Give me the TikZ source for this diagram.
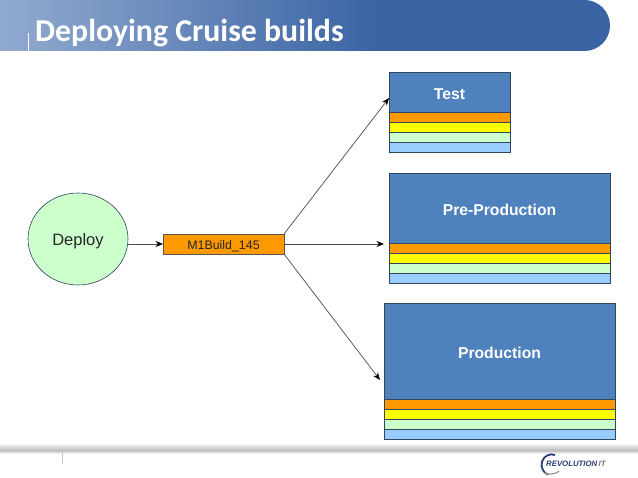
\documentclass[tikz,border=0pt]{standalone}
\usepackage{fontspec}
\setmainfont{Liberation Sans}
\newfontfamily\titlefont{Carlito}
\usetikzlibrary{arrows.meta,shapes.geometric}
\definecolor{hdrL}{HTML}{92AACF}
\definecolor{hdrR}{HTML}{3A64A4}
\definecolor{boxblue}{HTML}{4F81BD}
\definecolor{bandO}{HTML}{FF9900}
\definecolor{bandY}{HTML}{FFFF00}
\definecolor{bandG}{HTML}{CCFFCC}
\definecolor{bandB}{HTML}{99CCFF}
\definecolor{edge}{HTML}{2F4560}
\definecolor{logoblue}{HTML}{2B3F73}
\pgfdeclarehorizontalshading{hdrshade}{100bp}{color(0bp)=(hdrL); color(25bp)=(hdrL); color(56bp)=(hdrR); color(75bp)=(hdrR); color(100bp)=(hdrR)}
\tikzset{
  x=1pt,y=-1pt,
  band/.style={draw=edge,line width=0.6pt,minimum height=10pt,inner sep=0pt,outer sep=0pt,anchor=north west},
  env/.style={draw=edge,line width=0.6pt,fill=boxblue,inner sep=0pt,outer sep=0pt,anchor=north west,text=white,text height=13.5pt,text depth=0pt,font=\bfseries\fontsize{15.7}{17}\selectfont},
  link/.style={draw=black!70,line width=0.7pt,-{Stealth[length=7.5pt,width=6pt,color=black]}},
}
\newcommand{\bands}[4]{% name, x, y, width
  \node[band,fill=bandO,minimum width=#4pt] (#1o) at (#2,#3) {};
  \node[band,fill=bandY,minimum width=#4pt] (#1y) at (#2,#3+10) {};
  \node[band,fill=bandG,minimum width=#4pt] (#1g) at (#2,#3+20) {};
  \node[band,fill=bandB,minimum width=#4pt] (#1b) at (#2,#3+30) {};
}
\begin{document}
\begin{tikzpicture}
\useasboundingbox (0,0) rectangle (638,478);
\fill[white] (0,0) rectangle (638,478);
% header
\shade[shading=hdrshade,shading angle=0]
  (0,0) -- (584.5,0) arc[start angle=90,end angle=-90,radius=25.5pt] -- (0,51) -- cycle;
\draw[white,line width=0.8pt] (28,33) -- (28,52);
\node[anchor=base west,inner sep=0pt,text=white,font=\titlefont\bfseries\fontsize{31.8}{34}\selectfont] (title) at (35,42) {Deploying Cruise builds};
% environments
\node[env,minimum width=121pt,minimum height=40pt] (test) at (389,72.6) {Test};
\bands{t}{389}{112.6}{121}
\node[env,minimum width=221pt,minimum height=70pt] (pre) at (389,173.6) {Pre-Production};
\bands{p}{389}{243.6}{221}
\node[env,minimum width=231pt,minimum height=96pt] (prod) at (384,303.6) {Production};
\bands{d}{384}{399.6}{231}
% deploy + build
\node[draw=edge,line width=0.6pt,fill=bandG,ellipse,minimum width=100pt,minimum height=92pt,inner sep=0pt,outer sep=0pt,text height=14pt,text depth=0pt,font=\fontsize{16.5}{18}\selectfont,text=black!85] (deploy) at (78,239) {Deploy};
\node[draw=edge!80!bandO,line width=0.6pt,fill=bandO,minimum width=121pt,minimum height=20pt,inner sep=0pt,outer sep=0pt,anchor=north west,text height=10.9pt,text depth=0pt,font=\fontsize{12.4}{14}\selectfont,text=black!85] (build) at (163,234) {M1Build\_145\hspace{10pt}};
% connectors
\coordinate (e0) at (128,244);
\coordinate (etest) at (389,98);
\coordinate (epre) at (384,244);
\coordinate (eprod) at (380,380);
\draw[link] (e0) -- (build.west);
\draw[link] (build.north east) -- (etest);
\draw[link] (build.east) -- (epre);
\draw[link] (build.south east) -- (eprod);
% footer
\shade[top color=white,bottom color=black!28] (0,443) rectangle (638,451);
\shade[top color=black!20,bottom color=white] (0,451) rectangle (638,454);
\fill[black!22] (61.5,450) rectangle (63,464);
% logo
\draw[logoblue,line width=1.8pt] (555,455) arc[start angle=70,end angle=250,x radius=10pt,y radius=10.5pt];
\draw[black!40,line width=1.2pt] (544,473) arc[start angle=240,end angle=320,x radius=12pt,y radius=8pt];
\node[anchor=west,inner sep=0pt,font=\bfseries\itshape\fontsize{7.8}{9}\selectfont,text=logoblue] (logo) at (546,464) {REVOLUTION\,\textcolor{black!55}{IT}};
\end{tikzpicture}
\end{document}
